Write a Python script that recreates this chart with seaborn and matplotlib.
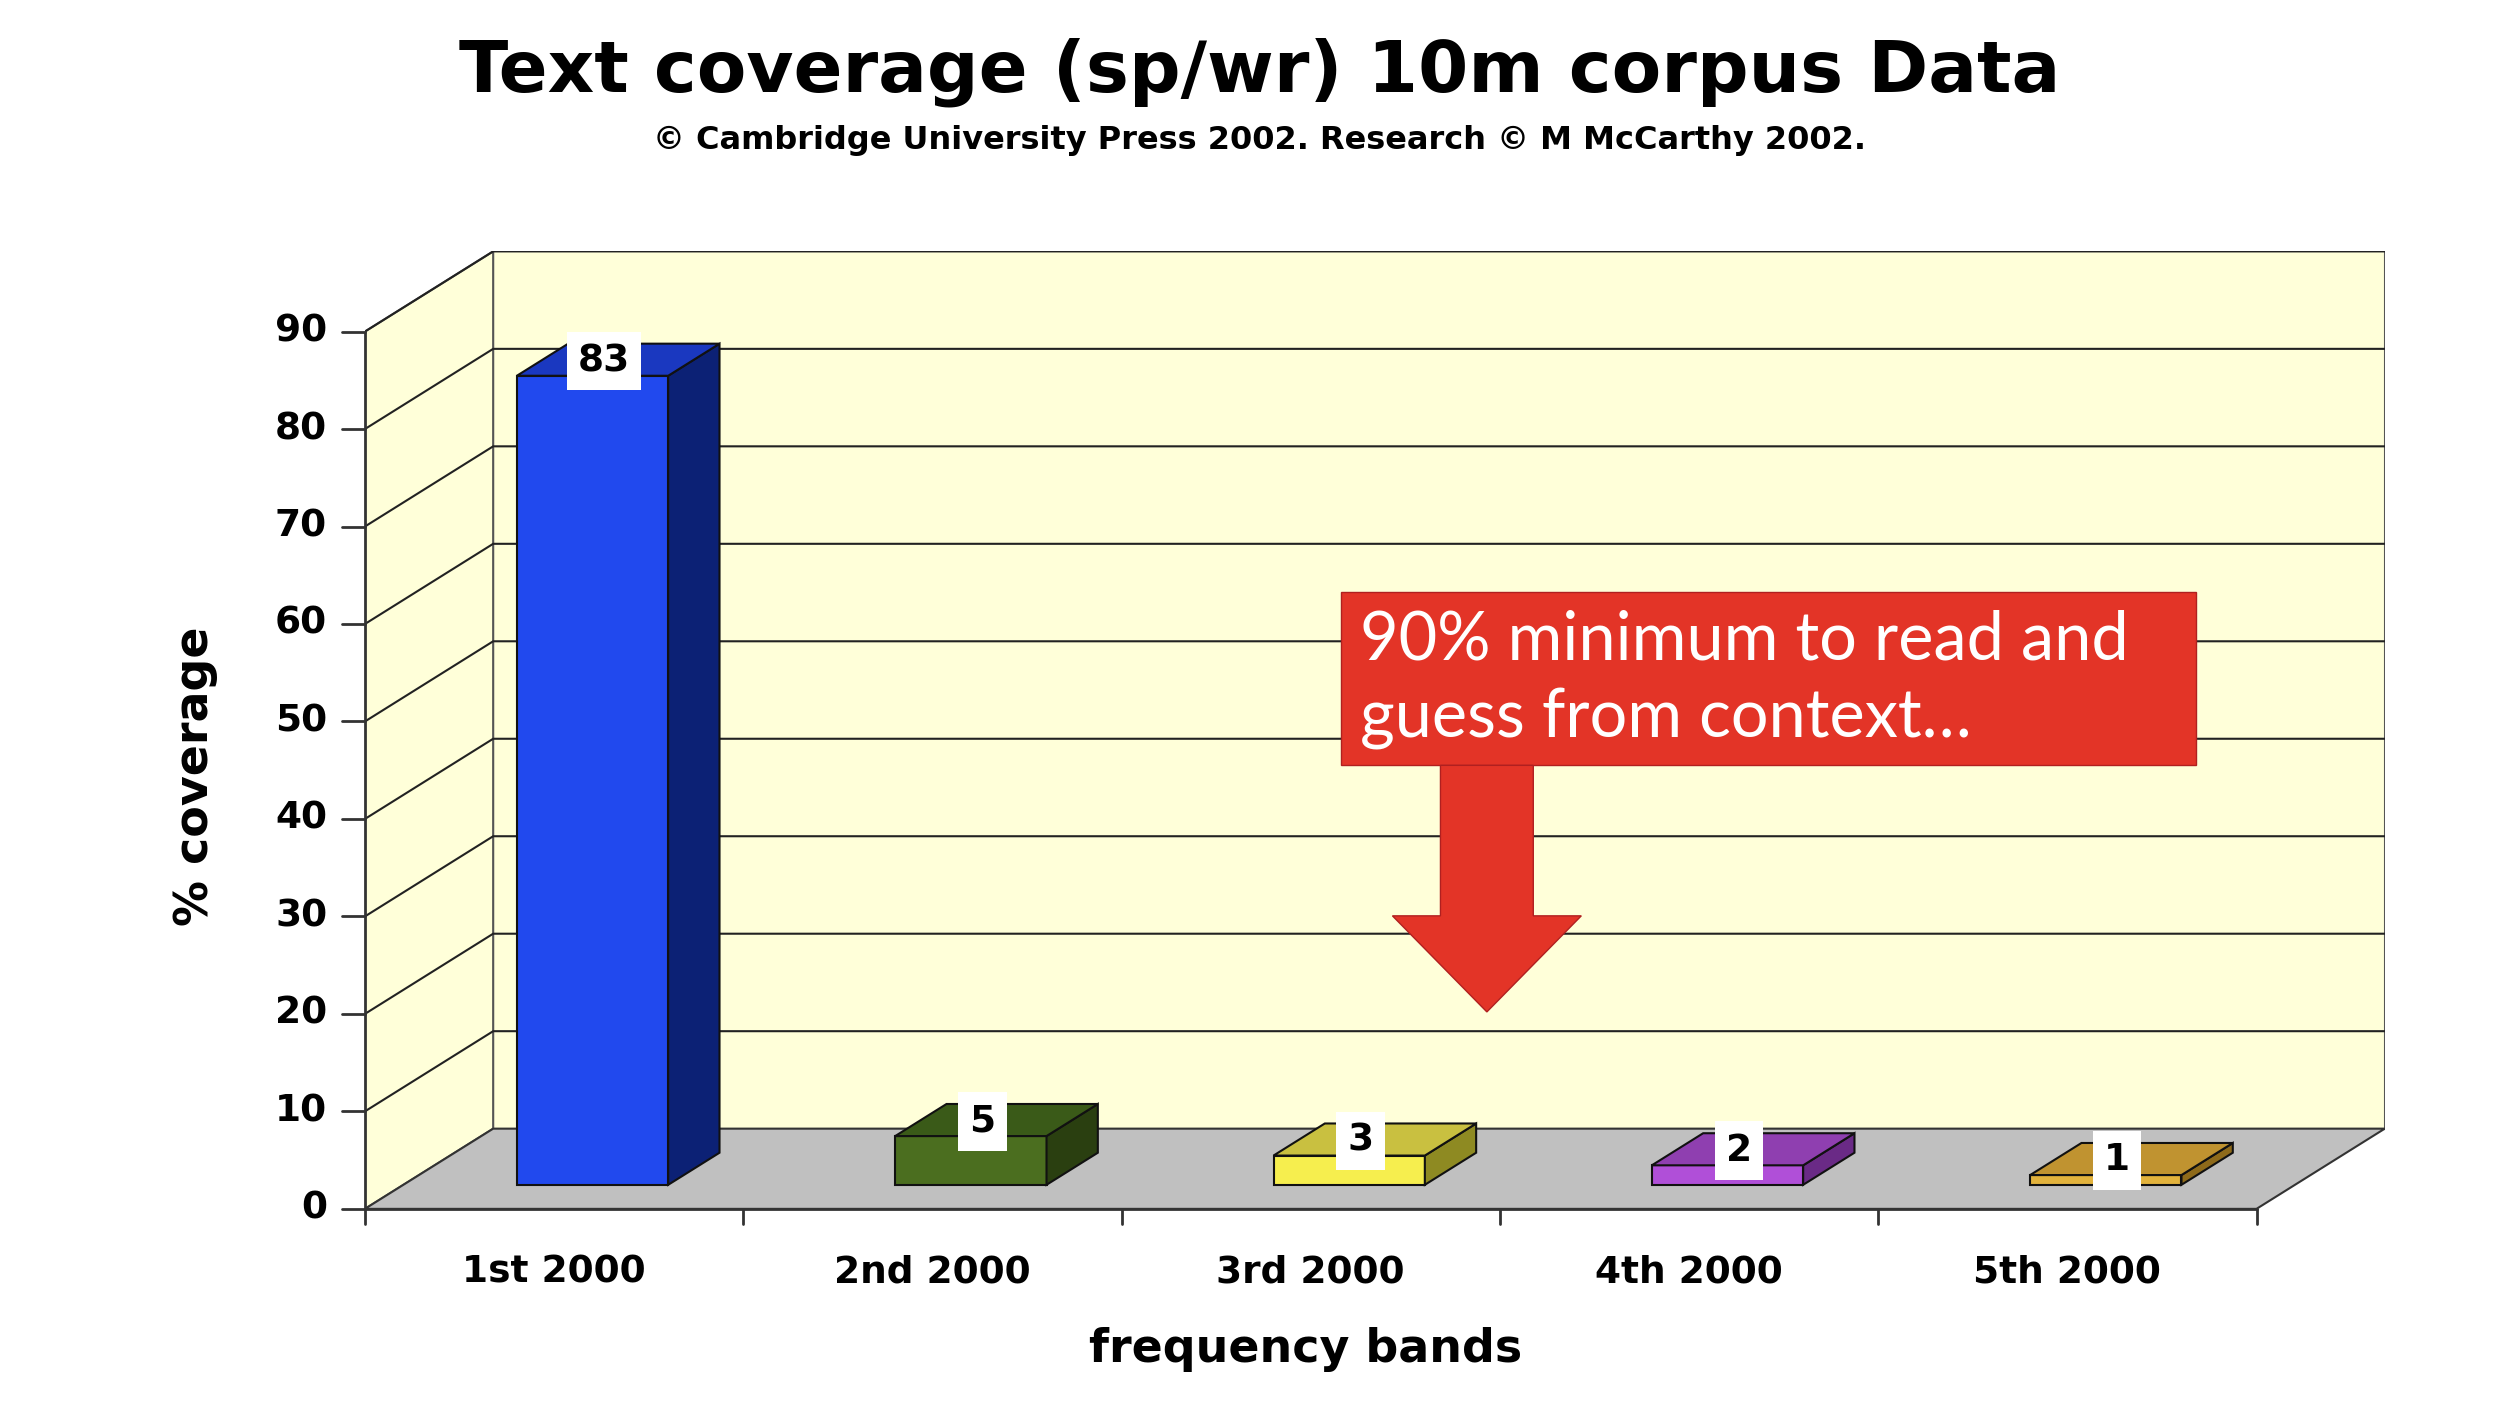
import matplotlib
matplotlib.use("Agg")
import matplotlib.pyplot as plt
from matplotlib.patches import Polygon
import seaborn as sns
import pandas as pd

categories = ["1st 2000", "2nd 2000", "3rd 2000", "4th 2000", "5th 2000"]
values = [83, 5, 3, 2, 1]
yticks = [0, 10, 20, 30, 40, 50, 60, 70, 80, 90]
front_colors = ["#2149EE", "#4B6E1F", "#F6EE4E", "#B04FD8", "#E2B23C"]
side_colors = ["#0C2175", "#2A3F10", "#8E8A22", "#6A2A86", "#8E6A1A"]
top_colors = ["#1A38C0", "#3A5A18", "#C9C040", "#8F3FB0", "#C09330"]

sns.set_theme(style="white")
plt.rcParams['font.family'] = ['DejaVu Sans']
plt.rcParams['text.color'] = 'black'

W, H = 1562.0, 880.0
fig = plt.figure(figsize=(25, 14.09), dpi=100)
ax = fig.add_axes([228 / W, 1 - 755 / H, (1490 - 228) / W, (755 - 157) / H])

dx = 80 / 1180 * 5
dy = 50 / 547 * 90
ax.set_xlim(-0.5, 4.5 + dx)
ax.set_ylim(0, 90 + dy)
ax.axis("off")

ax.add_patch(Polygon([(-0.5 + dx, dy), (4.5 + dx, dy), (4.5 + dx, 90 + dy), (-0.5 + dx, 90 + dy)],
                     closed=True, fc="#FFFFD9", ec="#555555", lw=1.5, zorder=0))
ax.add_patch(Polygon([(-0.5, 0), (-0.5 + dx, dy), (-0.5 + dx, 90 + dy), (-0.5, 90)],
                     closed=True, fc="#FFFFD9", ec="#555555", lw=1.5, zorder=0))
ax.add_patch(Polygon([(-0.5, 0), (4.5, 0), (4.5 + dx, dy), (-0.5 + dx, dy)],
                     closed=True, fc="#C0C0C0", ec="#333333", lw=1.5, zorder=1))
for t in yticks[1:]:
    ax.plot([-0.5, -0.5 + dx, 4.5 + dx], [t, t + dy, t + dy], color="#222222", lw=1.5, zorder=0.5)
ax.plot([-0.5, -0.5], [0, 90], color="#333333", lw=2, clip_on=False)
ax.plot([-0.5, 4.5], [0, 0], color="#333333", lw=2, clip_on=False)
for t in yticks:
    ax.plot([-0.56, -0.5], [t, t], color="#333333", lw=2, clip_on=False)
    ax.text(-0.6, t, str(t), ha="right", va="center", fontsize=27, fontweight="bold")
for b in range(6):
    ax.plot([b - 0.5, b - 0.5], [0, -1.6], color="#333333", lw=2, clip_on=False)
for i, c in enumerate(categories):
    ax.text(i, -6.5, c, ha="center", va="center", fontsize=27, fontweight="bold")

df = pd.DataFrame({"band": categories, "coverage": values})
sns.barplot(data=df, x="band", y="coverage", hue="band", palette=front_colors,
            width=0.4, legend=False, ax=ax, saturation=1, zorder=3)
ax.set_xlim(-0.5, 4.5 + dx)
ax.set_ylim(0, 90 + dy)
ax.axis("off")
ox, oy = 0.3 * dx, 0.3 * dy
bd, bdy = 0.4 * dx, 0.4 * dy
for i, p in enumerate(ax.patches[-5:]):
    p.set_x(p.get_x() + ox)
    p.set_y(oy)
    p.set_edgecolor("#111111")
    p.set_linewidth(1.5)
    x0, w, h = p.get_x(), p.get_width(), p.get_height()
    x1, top = x0 + w, oy + h
    ax.add_patch(Polygon([(x1, oy), (x1 + bd, oy + bdy), (x1 + bd, top + bdy), (x1, top)],
                         fc=side_colors[i], ec="#111111", lw=1.5, zorder=3))
    ax.add_patch(Polygon([(x0, top), (x1, top), (x1 + bd, top + bdy), (x0 + bd, top + bdy)],
                         fc=top_colors[i], ec="#111111", lw=1.5, zorder=3))
    ax.text(x0 + w / 2 + 0.03, top + 1.5, str(values[i]), ha="center", va="center",
            fontsize=27, fontweight="bold", zorder=5,
            bbox=dict(boxstyle="square,pad=0.3", fc="white", ec="none"))

fig.text(787 / W, 1 - 45 / H, "Text coverage (sp/wr) 10m corpus Data", ha="center", va="center",
         fontsize=52, fontweight="bold")
fig.text(787 / W, 1 - 88 / H, "© Cambridge University Press 2002. Research © M McCarthy 2002.",
         ha="center", va="center", fontsize=23, fontweight="bold")
fig.text(122 / W, 1 - 485 / H, "% coverage", ha="center", va="center", rotation=90,
         fontsize=33, fontweight="bold")
fig.text(816 / W, 1 - 843 / H, "frequency bands", ha="center", va="center",
         fontsize=33, fontweight="bold")

def P(x, y):
    return (x / W, 1 - y / H)
fig.patches.append(Polygon([P(838, 370), P(1372, 370), P(1372, 478), P(838, 478)],
                           closed=True, fc="#E33427", ec="#B02020", lw=1,
                           transform=fig.transFigure, figure=fig, zorder=10))
fig.patches.append(Polygon([P(900, 478), P(958, 478), P(958, 572), P(988, 572), P(929, 632),
                            P(870, 572), P(900, 572)],
                           closed=True, fc="#E33427", ec="#B02020", lw=1,
                           transform=fig.transFigure, figure=fig, zorder=10))
fig.text(850 / W, 1 - 400 / H, "90% minimum to read and", ha="left", va="center",
         fontsize=48, color="white", family=["Lato", "DejaVu Sans"], zorder=11)
fig.text(850 / W, 1 - 449 / H, "guess from context…", ha="left", va="center",
         fontsize=48, color="white", family=["Lato", "DejaVu Sans"], zorder=11)

fig.savefig("out.png", dpi=100, facecolor="white")
